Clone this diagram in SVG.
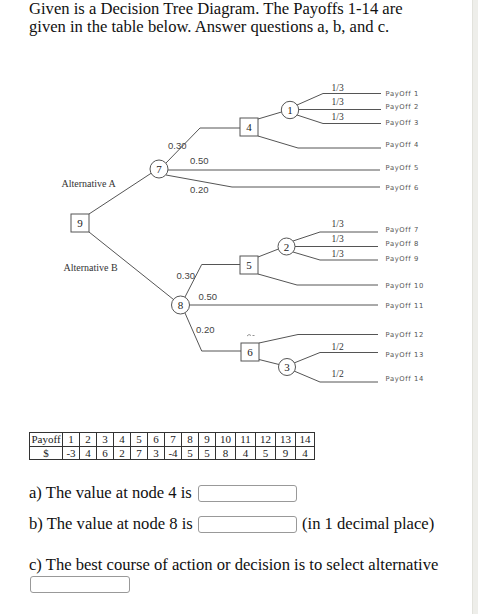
<svg xmlns="http://www.w3.org/2000/svg" width="478" height="614" viewBox="0 0 478 614">
<style>
.t{font-family:"Liberation Serif","Times New Roman",serif;fill:#111}
.q{font-size:16.6px}
.c{fill:none;stroke:#555;stroke-width:1}
.bx{fill:#fff;stroke:#555;stroke-width:1}
.nl{font-family:"Liberation Serif",serif;font-size:11px;fill:#222;text-anchor:middle}
.pr{font-family:"Liberation Sans",Arial,sans-serif;font-size:9.5px;fill:#444}
.fr{font-family:"Liberation Serif",serif;font-size:9.5px;fill:#333}
.po{font-family:"DejaVu Sans","Liberation Sans",sans-serif;font-size:6.8px;fill:#555;letter-spacing:0.6px}
.alt{font-family:"Liberation Serif",serif;font-size:10px;fill:#333}
.tb{font-family:"Liberation Serif",serif;font-size:11px;fill:#222;text-anchor:middle}
.in{fill:#fff;stroke:#999;stroke-width:1}
</style>
<rect width="478" height="614" fill="#fff"/>
<rect x="472" y="0" width="6" height="614" fill="#eeeeea"/>
<line x1="472.5" y1="0" x2="472.5" y2="614" stroke="#e2e2dc"/>

<text class="t q" x="29" y="14">Given is a Decision Tree Diagram. The Payoffs 1-14 are</text>
<text class="t q" x="29" y="32">given in the table below. Answer questions a, b, and c.</text>

<g id="connectors">
<polyline class="c" points="89,214 151.5,173"/>
<polyline class="c" points="89,232 173.5,299.5"/>
<polyline class="c" points="166,163 200,128 240,128"/>
<polyline class="c" points="168,170 380,170"/>
<polyline class="c" points="166,175 232,187 380,187"/>
<polyline class="c" points="258,119 281.5,112"/>
<polyline class="c" points="258,136 298,148 381,148"/>
<polyline class="c" points="297,105 323,93.5 381,93.5"/>
<polyline class="c" points="299,109.5 381,109.5"/>
<polyline class="c" points="297,115 323,123.5 381,123.5"/>
<polyline class="c" points="185,297 201.7,264.5 240,264.5"/>
<polyline class="c" points="189.5,305 378,305"/>
<polyline class="c" points="185,313 201.7,351 241,351"/>
<polyline class="c" points="258,257 278.5,249"/>
<polyline class="c" points="258,274 297,285 378,285"/>
<polyline class="c" points="293,241 320,232 378,232"/>
<polyline class="c" points="295,246.5 378,246.5"/>
<polyline class="c" points="293,252 320,260 378,260"/>
<polyline class="c" points="259,343 298,334.5 378,334.5"/>
<polyline class="c" points="259,359.5 279,364.5"/>
<polyline class="c" points="294,363 320,352.5 378,352.5"/>
<polyline class="c" points="294,371 320,382 378,382"/>
<path d="M247,336 l2,-1.5 l2,1 M252.5,335.5 h2" fill="none" stroke="#777" stroke-width="0.8"/>
</g>

<g id="labels">
<text class="alt" x="61.5" y="186.5">Alternative A</text>
<text class="alt" x="63.5" y="270.5">Alternative B</text>
<text class="pr" x="168" y="149">0.30</text>
<text class="pr" x="190" y="164">0.50</text>
<text class="pr" x="190" y="192.5">0.20</text>
<text class="pr" x="176.5" y="279">0.30</text>
<text class="pr" x="198.5" y="300">0.50</text>
<text class="pr" x="196" y="332.5">0.20</text>
<text class="fr" x="331.5" y="90.5">1/3</text>
<text class="fr" x="331.5" y="105">1/3</text>
<text class="fr" x="331.5" y="120">1/3</text>
<text class="fr" x="331.5" y="226.8">1/3</text>
<text class="fr" x="331.5" y="241.5">1/3</text>
<text class="fr" x="331.5" y="256.5">1/3</text>
<text class="fr" x="331.5" y="350">1/2</text>
<text class="fr" x="331.5" y="376.5">1/2</text>
</g>

<g id="node-9"><rect class="bx" x="71" y="214" width="18" height="18"/><text class="nl" x="80" y="227">9</text></g>
<g id="node-7"><circle class="bx" cx="159" cy="169" r="9"/><text class="nl" x="159" y="173">7</text></g>
<g id="node-4"><rect class="bx" x="240" y="118" width="18" height="18"/><text class="nl" x="249" y="131">4</text></g>
<g id="node-1"><circle class="bx" cx="290" cy="110" r="8.7"/><text class="nl" x="290" y="114">1</text></g>
<g id="node-8"><circle class="bx" cx="180.5" cy="305" r="9"/><text class="nl" x="180.5" y="309">8</text></g>
<g id="node-5"><rect class="bx" x="240" y="256" width="18" height="18"/><text class="nl" x="249" y="269">5</text></g>
<g id="node-2"><circle class="bx" cx="286.5" cy="246.5" r="8.5"/><text class="nl" x="286.5" y="250.5">2</text></g>
<g id="node-6"><rect class="bx" x="241" y="343" width="18" height="18"/><text class="nl" x="250" y="356">6</text></g>
<g id="node-3"><circle class="bx" cx="287" cy="367" r="8.5"/><text class="nl" x="287" y="371">3</text></g>

<g id="payoffs">
<text class="po" x="385.5" y="95.8">PayOff 1</text>
<text class="po" x="385.5" y="109.2">PayOff 2</text>
<text class="po" x="385.5" y="124.5">PayOff 3</text>
<text class="po" x="385.5" y="146.5">PayOff 4</text>
<text class="po" x="385.5" y="169.8">PayOff 5</text>
<text class="po" x="385.5" y="189.8">PayOff 6</text>
<text class="po" x="385.5" y="231.5">PayOff 7</text>
<text class="po" x="385.5" y="246.2">PayOff 8</text>
<text class="po" x="385.5" y="260.8">PayOff 9</text>
<text class="po" x="385.5" y="287.5">PayOff 10</text>
<text class="po" x="385.5" y="308.2">PayOff 11</text>
<text class="po" x="385.5" y="336.8">PayOff 12</text>
<text class="po" x="385.5" y="356.5">PayOff 13</text>
<text class="po" x="385.5" y="380.8">PayOff 14</text>
</g>

<g id="table">
<rect x="29.5" y="432.5" width="285" height="27" fill="none" stroke="#333"/>
<line x1="29.5" y1="446.5" x2="314.5" y2="446.5" stroke="#333"/>
<g stroke="#333">
<line x1="62.5" y1="432.5" x2="62.5" y2="459.5"/>
<line x1="79.5" y1="432.5" x2="79.5" y2="459.5"/>
<line x1="96.5" y1="432.5" x2="96.5" y2="459.5"/>
<line x1="113.5" y1="432.5" x2="113.5" y2="459.5"/>
<line x1="130.5" y1="432.5" x2="130.5" y2="459.5"/>
<line x1="147.5" y1="432.5" x2="147.5" y2="459.5"/>
<line x1="164.5" y1="432.5" x2="164.5" y2="459.5"/>
<line x1="181.5" y1="432.5" x2="181.5" y2="459.5"/>
<line x1="198.5" y1="432.5" x2="198.5" y2="459.5"/>
<line x1="215.5" y1="432.5" x2="215.5" y2="459.5"/>
<line x1="235.5" y1="432.5" x2="235.5" y2="459.5"/>
<line x1="255.5" y1="432.5" x2="255.5" y2="459.5"/>
<line x1="275.5" y1="432.5" x2="275.5" y2="459.5"/>
<line x1="295.5" y1="432.5" x2="295.5" y2="459.5"/>
</g>
<text class="tb" x="46" y="443">Payoff</text>
<text class="tb" x="46" y="456.5">$</text>
<text class="tb" x="71" y="443">1</text><text class="tb" x="71" y="456.5">-3</text>
<text class="tb" x="88" y="443">2</text><text class="tb" x="88" y="456.5">4</text>
<text class="tb" x="105" y="443">3</text><text class="tb" x="105" y="456.5">6</text>
<text class="tb" x="122" y="443">4</text><text class="tb" x="122" y="456.5">2</text>
<text class="tb" x="139" y="443">5</text><text class="tb" x="139" y="456.5">7</text>
<text class="tb" x="156" y="443">6</text><text class="tb" x="156" y="456.5">3</text>
<text class="tb" x="173" y="443">7</text><text class="tb" x="173" y="456.5">-4</text>
<text class="tb" x="190" y="443">8</text><text class="tb" x="190" y="456.5">5</text>
<text class="tb" x="207" y="443">9</text><text class="tb" x="207" y="456.5">5</text>
<text class="tb" x="225.5" y="443">10</text><text class="tb" x="225.5" y="456.5">8</text>
<text class="tb" x="245.5" y="443">11</text><text class="tb" x="245.5" y="456.5">4</text>
<text class="tb" x="265.5" y="443">12</text><text class="tb" x="265.5" y="456.5">5</text>
<text class="tb" x="285.5" y="443">13</text><text class="tb" x="285.5" y="456.5">9</text>
<text class="tb" x="305" y="443">14</text><text class="tb" x="305" y="456.5">4</text>
</g>

<g id="questions">
<text class="t q" x="29" y="497.5">a) The value at node 4 is</text>
<rect class="in" x="198.5" y="485.5" width="98" height="16" rx="2.5"/>
<text class="t q" x="29" y="528.5">b) The value at node 8 is</text>
<rect class="in" x="198.5" y="516.5" width="98" height="16" rx="2.5"/>
<text class="t q" x="302" y="528.5">(in 1 decimal place)</text>
<text class="t q" x="29" y="569.5">c) The best course of action or decision is to select alternative</text>
<rect class="in" x="30.5" y="576.5" width="99" height="16" rx="2.5"/>
</g>
</svg>
